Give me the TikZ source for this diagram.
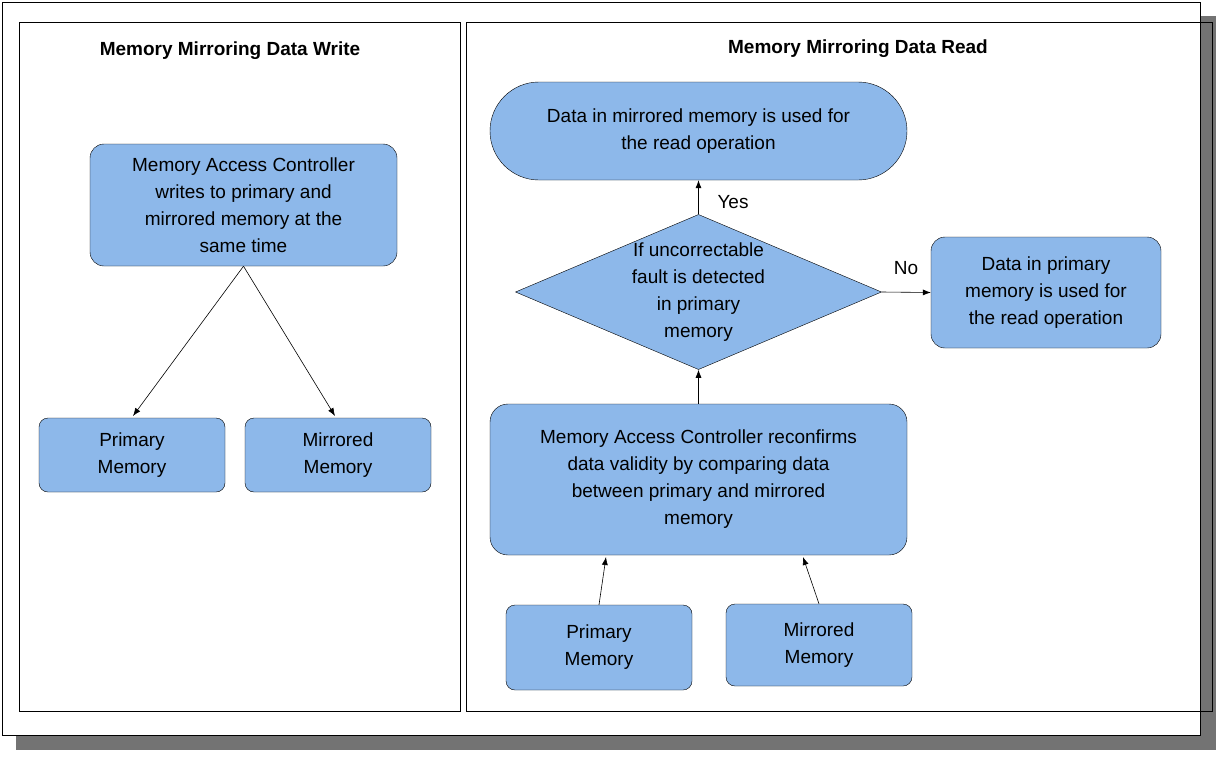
\documentclass[tikz,border=0pt]{standalone}
\usepackage{fontspec}
\setmainfont{Liberation Sans}
\usetikzlibrary{shapes.geometric,arrows.meta}
\definecolor{bx}{HTML}{8DB8EA}
\begin{document}
\begin{tikzpicture}[x=1pt,y=-1pt,
  box/.style={draw=black,fill=bx,rounded corners=14pt,align=center,font=\fontsize{19}{27}\selectfont,inner sep=0pt},
  ttl/.style={font=\bfseries\fontsize{19}{23}\selectfont},
  arr/.style={-{Latex[length=8pt,width=6pt]},line width=0.6pt}]
\useasboundingbox (0,0) rectangle (1232,766);
\fill[black!55] (16,16) rectangle (1216,750);
\draw[fill=white,line width=1pt] (2,2) rectangle (1200,735);
\draw[line width=0.6pt] (19,22) rectangle (460,711);
\draw[line width=0.6pt] (466,22) rectangle (1212,711);
\node[ttl] (t1) at (230,51) {Memory Mirroring Data Write};
\node[ttl] (t2) at (858,49) {Memory Mirroring Data Read};
\node[box,minimum width=307pt,minimum height=122pt] (mac) at (243.5,205) {Memory Access Controller\\writes to primary and\\mirrored memory at the\\same time};
\node[box,minimum width=186pt,minimum height=74pt,rounded corners=9pt] (p1) at (132,455) {Primary\\Memory};
\node[box,minimum width=186pt,minimum height=74pt,rounded corners=9pt] (m1) at (338,455) {Mirrored\\Memory};
\draw[arr] (mac.south) -- (133,416);
\draw[arr] (mac.south) -- (335,416);
\node[box,minimum width=417pt,minimum height=98pt,rounded corners=49pt] (top) at (698.5,131) {Data in mirrored memory is used for\\the read operation};
\node[diamond,draw=black,fill=bx,aspect=2.36,minimum width=359pt,minimum height=152pt,inner sep=0pt,align=center,font=\fontsize{19}{27}\selectfont] (d) at (698.5,292) {If uncorrectable\\fault is detected\\in primary\\memory};
\node[box,minimum width=230pt,minimum height=111pt] (r) at (1046,292.5) {Data in primary\\memory is used for\\the read operation};
\node[box,minimum width=417pt,minimum height=151pt,rounded corners=18pt] (mac2) at (698.5,479.5) {Memory Access Controller reconfirms\\data validity by comparing data\\between primary and mirrored\\memory};
\node[box,minimum width=186pt,minimum height=85pt,rounded corners=9pt] (p2) at (599,647.5) {Primary\\Memory};
\node[box,minimum width=186pt,minimum height=82pt,rounded corners=9pt] (m2) at (819,645) {Mirrored\\Memory};
\draw[arr] (p2.north) -- (606,557);
\draw[arr] (m2.north) -- (803,557);
\draw[arr] (mac2.north) -- (d.south);
\draw[arr] (d.north) -- (top.south);
\draw[arr] (d.east) -- (r.west);
\node[font=\fontsize{19}{23}\selectfont] (yes) at (733,202) {Yes};
\node[font=\fontsize{19}{23}\selectfont] (no) at (906,268) {No};
\end{tikzpicture}
\end{document}
